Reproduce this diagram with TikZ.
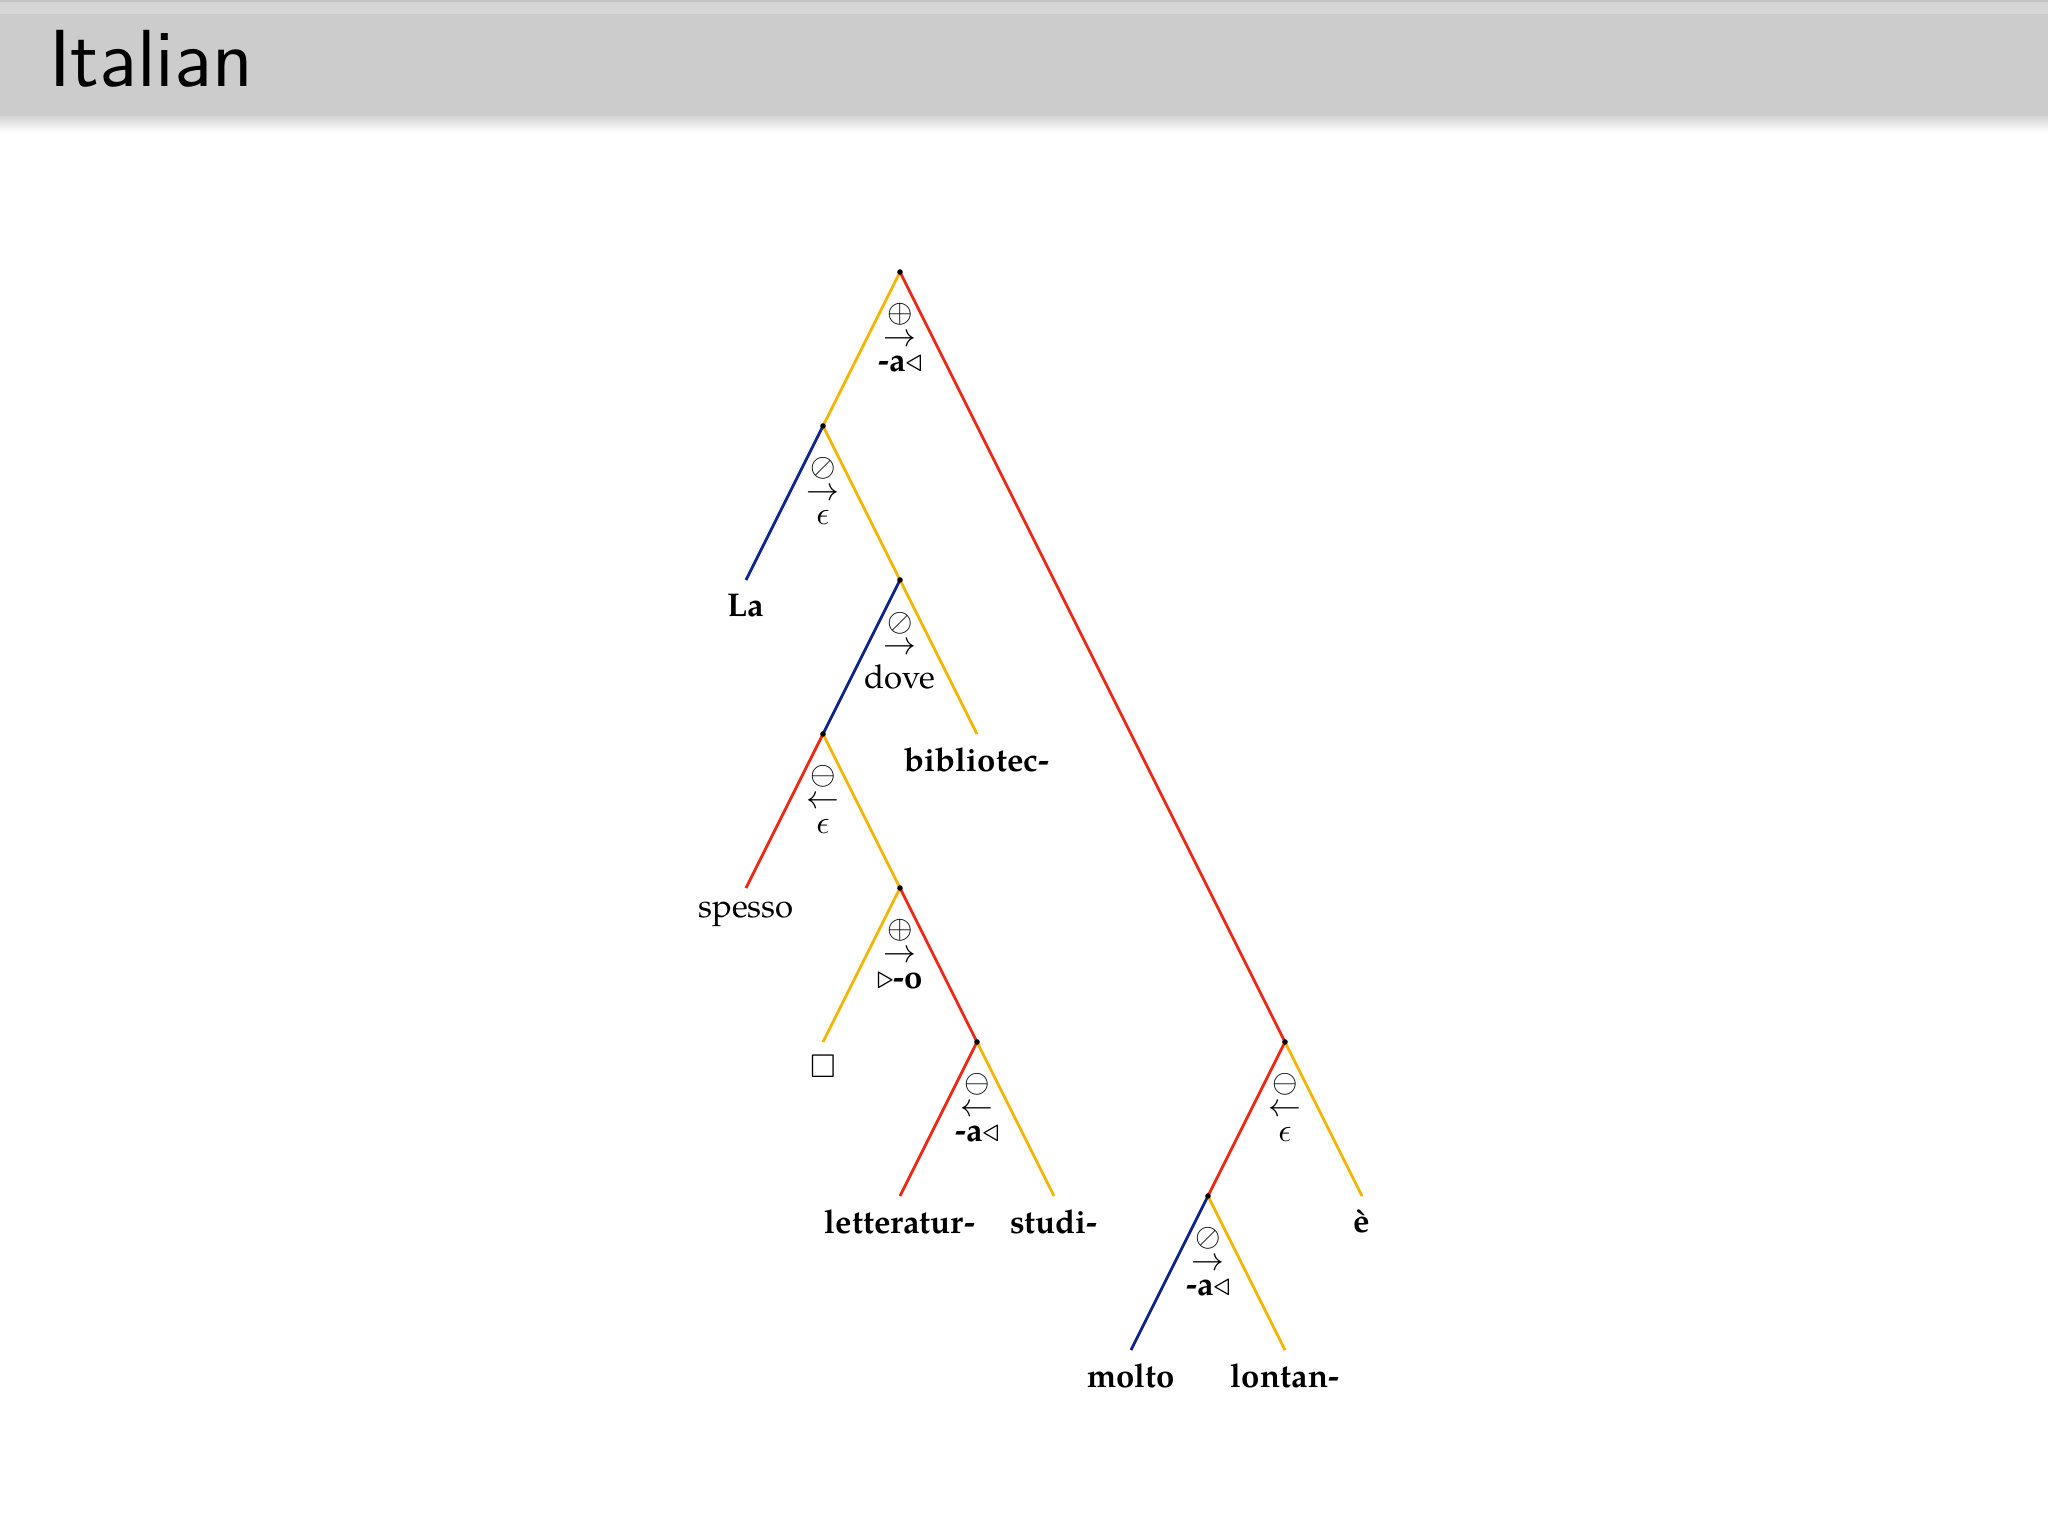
\documentclass[tikz,border=0pt]{standalone}
\usepackage{amssymb}
\usepackage{fontspec}
\setmainfont{TeX Gyre Pagella}
\definecolor{yel}{RGB}{243,181,0}
\definecolor{rd}{RGB}{236,40,20}
\definecolor{blu}{RGB}{15,35,140}
\definecolor{hdr}{RGB}{204,204,204}
\definecolor{hdrtop}{RGB}{214,214,214}
\definecolor{hdrline}{RGB}{196,196,196}
\newcommand{\tl}[1]{\scalebox{0.532}{\fontsize{11}{13}\selectfont #1}}
\begin{document}
\begin{tikzpicture}[x=0.0625mm,y=-0.0625mm,
  edge/.style={line width=0.5pt},
  lab/.style={inner sep=0pt,anchor=center},
  leaflab/.style={inner sep=0pt,anchor=north,yshift=-0.79mm},
  titlestyle/.style={inner sep=0pt,anchor=base west,font=\sffamily\fontsize{14.4}{17}\selectfont}]
\useasboundingbox (0,0) rectangle (2048,1536);
\fill[white] (0,0) rectangle (2048,1536);
% header
\fill[hdrtop] (0,0) rectangle (2048,14);
\fill[hdrline] (0,0) rectangle (2048,2);
\fill[hdr] (0,14) rectangle (2048,116);
\shade[top color=hdr!85!white, bottom color=white] (0,116) rectangle (2048,132);
\node[titlestyle] (title) at (48,87) {Italian};
% tree positions
\coordinate (r) at (900,272);
\coordinate (n1) at (823,426);
\coordinate (la) at (746,580);
\coordinate (n2) at (900,580);
\coordinate (n3) at (823,734);
\coordinate (bib) at (977,734);
\coordinate (sp) at (746,888);
\coordinate (n4) at (900,888);
\coordinate (sq) at (823,1042);
\coordinate (n5) at (977,1042);
\coordinate (let) at (900,1196);
\coordinate (stu) at (1054,1196);
\coordinate (n6) at (1285,1042);
\coordinate (n7) at (1208,1196);
\coordinate (e) at (1362,1196);
\coordinate (mol) at (1131,1350);
\coordinate (lon) at (1285,1350);
% edges
\draw[edge,yel] (r) -- (n1);
\draw[edge,rd] (r) -- (n6);
\draw[edge,blu] (n1) -- (la);
\draw[edge,yel] (n1) -- (n2);
\draw[edge,blu] (n2) -- (n3);
\draw[edge,yel] (n2) -- (bib);
\draw[edge,rd] (n3) -- (sp);
\draw[edge,yel] (n3) -- (n4);
\draw[edge,yel] (n4) -- (sq);
\draw[edge,rd] (n4) -- (n5);
\draw[edge,rd] (n5) -- (let);
\draw[edge,yel] (n5) -- (stu);
\draw[edge,rd] (n6) -- (n7);
\draw[edge,yel] (n6) -- (e);
\draw[edge,blu] (n7) -- (mol);
\draw[edge,yel] (n7) -- (lon);
% dots
\foreach \p in {r,n1,n2,n3,n4,n5,n6,n7} \fill[black] (\p) circle (2.8);
% internal labels
\node[lab] (rA) at ([yshift=-42*0.0625mm]r) {\tl{$\oplus$}};
\node[lab] (rB) at ([yshift=-68*0.0625mm]r) {\tl{$\rightarrow$}};
\node[lab] (rC) at ([yshift=-92*0.0625mm]r) {\tl{\textbf{-a}$\triangleleft$}};
\node[lab] (n1A) at ([yshift=-42*0.0625mm]n1) {\tl{$\oslash$}};
\node[lab] (n1B) at ([yshift=-68*0.0625mm]n1) {\tl{$\rightarrow$}};
\node[lab] (n1C) at ([yshift=-91*0.0625mm]n1) {\tl{$\epsilon$}};
\node[lab] (n2A) at ([yshift=-43*0.0625mm]n2) {\tl{$\oslash$}};
\node[lab] (n2B) at ([yshift=-68*0.0625mm]n2) {\tl{$\rightarrow$}};
\node[lab] (n2C) at ([yshift=-97*0.0625mm]n2) {\tl{dove}};
\node[lab] (n3A) at ([yshift=-42*0.0625mm]n3) {\tl{$\ominus$}};
\node[lab] (n3B) at ([yshift=-68*0.0625mm]n3) {\tl{$\leftarrow$}};
\node[lab] (n3C) at ([yshift=-92*0.0625mm]n3) {\tl{$\epsilon$}};
\node[lab] (n4A) at ([yshift=-42*0.0625mm]n4) {\tl{$\oplus$}};
\node[lab] (n4B) at ([yshift=-68*0.0625mm]n4) {\tl{$\rightarrow$}};
\node[lab] (n4C) at ([yshift=-93*0.0625mm]n4) {\tl{$\triangleright$\textbf{-o}}};
\node[lab] (n5A) at ([yshift=-42*0.0625mm]n5) {\tl{$\ominus$}};
\node[lab] (n5B) at ([yshift=-68*0.0625mm]n5) {\tl{$\leftarrow$}};
\node[lab] (n5C) at ([yshift=-92*0.0625mm]n5) {\tl{\textbf{-a}$\triangleleft$}};
\node[lab] (n6A) at ([yshift=-42*0.0625mm]n6) {\tl{$\ominus$}};
\node[lab] (n6B) at ([yshift=-68*0.0625mm]n6) {\tl{$\leftarrow$}};
\node[lab] (n6C) at ([yshift=-92*0.0625mm]n6) {\tl{$\epsilon$}};
\node[lab] (n7A) at ([yshift=-42*0.0625mm]n7) {\tl{$\oslash$}};
\node[lab] (n7B) at ([yshift=-68*0.0625mm]n7) {\tl{$\rightarrow$}};
\node[lab] (n7C) at ([yshift=-92*0.0625mm]n7) {\tl{\textbf{-a}$\triangleleft$}};
% leaf labels
\node[leaflab] (laL) at (la) {\tl{\textbf{La}}};
\node[leaflab] (bibL) at (bib) {\tl{\textbf{bibliotec-}}};
\node[leaflab] (spL) at (sp) {\tl{spesso}};
\node[leaflab] (sqL) at (sq) {\tl{$\square$}};
\node[leaflab] (letL) at (let) {\tl{\textbf{letteratur-}}};
\node[leaflab] (stuL) at (stu) {\tl{\textbf{studi-}}};
\node[leaflab] (eL) at (e) {\tl{\textbf{è}}};
\node[leaflab] (molL) at (mol) {\tl{\textbf{molto}}};
\node[leaflab] (lonL) at (lon) {\tl{\textbf{lontan-}}};
\end{tikzpicture}
\end{document}
